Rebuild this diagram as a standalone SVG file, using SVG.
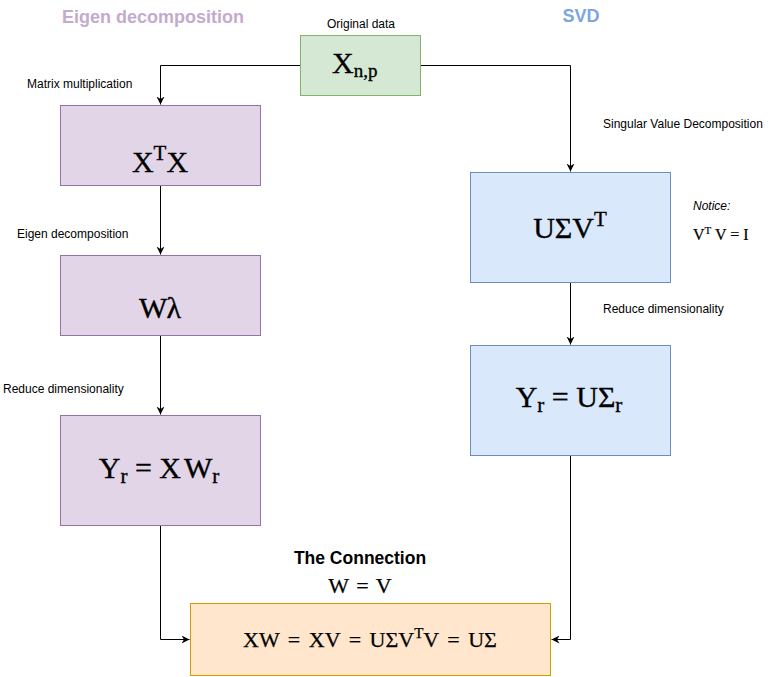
<svg xmlns="http://www.w3.org/2000/svg" width="781" height="677" viewBox="0 0 781 677">
<style>
.lbl{font-family:"Liberation Sans",Arial,sans-serif;font-size:12px;fill:#000}
.ttl{font-family:"Liberation Sans",Arial,sans-serif;font-size:18px;font-weight:bold}
.math{font-family:"Liberation Serif","Times New Roman",serif;fill:#000;stroke:#000;stroke-width:0.25}
.big{font-size:30px;stroke-width:0.35}
.purple{fill:#e1d5e7;stroke:#9673a6;stroke-width:1}
.blue{fill:#dae8fc;stroke:#6c8ebf;stroke-width:1}
.green{fill:#d5e8d4;stroke:#82b366;stroke-width:1}
.orange{fill:#ffe6cc;stroke:#d79b00;stroke-width:1}
.edge{fill:none;stroke:#000;stroke-width:1}
</style>
<defs>
<marker id="arr" viewBox="0 0 10 10" refX="10" refY="5" markerWidth="8" markerHeight="8" markerUnits="userSpaceOnUse" orient="auto">
<path d="M0,0 L10,5 L0,10 L3,5 Z" fill="#000"/>
</marker>
</defs>
<rect width="781" height="677" fill="#fff"/>

<text class="ttl" x="153" y="23" text-anchor="middle" fill="#c3abd0">Eigen decomposition</text>
<text class="ttl" x="581" y="22" text-anchor="middle" fill="#7ea6e0">SVD</text>

<g id="connectors">
<path class="edge" d="M300.5,65.5 H160.5 V104.5" marker-end="url(#arr)"/>
<path class="edge" d="M420.5,65.5 H570.5 V171.5" marker-end="url(#arr)"/>
<path class="edge" d="M160.5,185.5 V254.5" marker-end="url(#arr)"/>
<path class="edge" d="M160.5,335.5 V414.5" marker-end="url(#arr)"/>
<path class="edge" d="M570.5,282.5 V344.5" marker-end="url(#arr)"/>
<path class="edge" d="M160.5,525.5 V639.5 H189.5" marker-end="url(#arr)"/>
<path class="edge" d="M570.5,455.5 V639.5 H551.5" marker-end="url(#arr)"/>
</g>

<g id="labels">
<text class="lbl" x="361" y="27.5" text-anchor="middle">Original data</text>
<text class="lbl" x="27" y="87.5">Matrix multiplication</text>
<text class="lbl" x="17" y="237.5">Eigen decomposition</text>
<text class="lbl" x="3" y="392.5">Reduce dimensionality</text>
<text class="lbl" x="603" y="127.5">Singular Value Decomposition</text>
<text class="lbl" x="603" y="312.5">Reduce dimensionality</text>
<text class="lbl" x="693" y="209.5" font-style="italic">Notice:</text>
<text class="math" x="693" y="240" font-size="16" style="stroke-width:0.2">V<tspan dy="-6" font-size="11">T</tspan><tspan dy="6"> V = I</tspan></text>
</g>

<g id="node-original">
<rect class="green" x="300.5" y="35.5" width="120" height="60"/>
<text class="math big" x="332" y="72.5">X<tspan dy="4" font-size="19">n,p</tspan></text>
</g>

<g id="node-xtx">
<rect class="purple" x="60.5" y="105.5" width="200" height="80"/>
<text class="math big" x="160" y="172" text-anchor="middle">X<tspan dy="-12" font-size="21">T</tspan><tspan dy="12">X</tspan></text>
</g>

<g id="node-wlambda">
<rect class="purple" x="60.5" y="255.5" width="200" height="80"/>
<text class="math big" x="160" y="318" text-anchor="middle">W<tspan dx="-1">λ</tspan></text>
</g>

<g id="node-yr-eigen">
<rect class="purple" x="60.5" y="415.5" width="200" height="110"/>
<text class="math big" x="159" y="478" text-anchor="middle">Y<tspan dy="5" font-size="21">r</tspan><tspan dy="-5"> = X</tspan><tspan dx="3">W</tspan><tspan dy="5" font-size="21">r</tspan></text>
</g>

<g id="node-usvt">
<rect class="blue" x="470.5" y="172.5" width="200" height="110"/>
<text class="math big" x="570" y="238" text-anchor="middle">UΣV<tspan dy="-12" font-size="21">T</tspan></text>
</g>

<g id="node-yr-svd">
<rect class="blue" x="470.5" y="345.5" width="200" height="110"/>
<text class="math big" x="569" y="407" text-anchor="middle">Y<tspan dy="5" font-size="21">r</tspan><tspan dy="-5">  = UΣ</tspan><tspan dy="5" font-size="21">r</tspan></text>
</g>

<g id="node-connection">
<text x="360" y="564" text-anchor="middle" font-family="'Liberation Sans',Arial,sans-serif" font-size="17.5" font-weight="bold">The Connection</text>
<text class="math" x="360" y="593" text-anchor="middle" font-size="22" word-spacing="2">W = V</text>
<rect class="orange" x="190.5" y="603.5" width="360" height="72"/>
<text class="math" x="370" y="647" text-anchor="middle" font-size="22" word-spacing="3">XW = XV = UΣV<tspan dy="-9" font-size="15">T</tspan><tspan dy="9">V = UΣ</tspan></text>
</g>
</svg>
